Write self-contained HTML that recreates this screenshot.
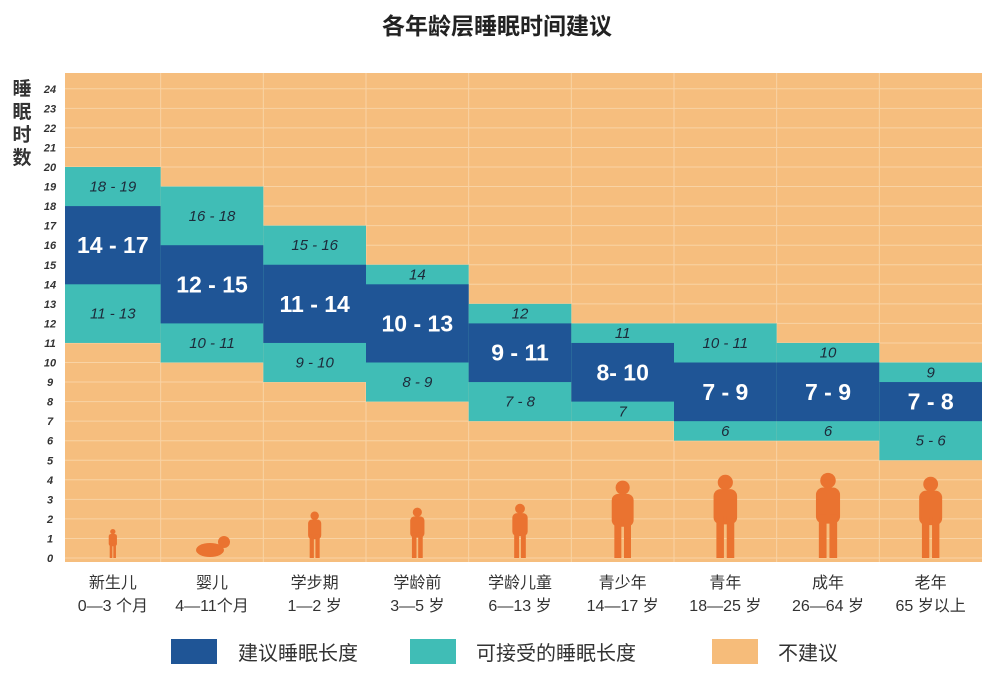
<!DOCTYPE html>
<html><head><meta charset="utf-8">
<style>
body{margin:0;background:#fff;width:1000px;height:671px;overflow:hidden;font-family:"Liberation Sans","Noto Sans CJK SC",sans-serif;}
svg text{font-family:"Liberation Sans","Noto Sans CJK SC",sans-serif;}
</style></head><body>
<svg id="chart" width="1000" height="671" xmlns="http://www.w3.org/2000/svg">
<text x="497" y="34" text-anchor="middle" font-size="23" font-weight="bold" fill="#222">各年龄层睡眠时间建议</text>
<g font-size="19" font-weight="bold" fill="#333">
<text x="22" y="95" text-anchor="middle">睡</text><text x="22" y="118" text-anchor="middle">眠</text>
<text x="22" y="141" text-anchor="middle">时</text><text x="22" y="164" text-anchor="middle">数</text></g>
<g id="plot"></g>
<g id="legend">
<rect x="171" y="639" width="46" height="25" fill="#1F5596"/>
<text x="238" y="660" font-size="20" fill="#333">建议睡眠长度</text>
<rect x="410" y="639" width="46" height="25" fill="#40BDB6"/>
<text x="476" y="660" font-size="20" fill="#333">可接受的睡眠长度</text>
<rect x="712" y="639" width="46" height="25" fill="#F6BC7A"/>
<text x="778" y="660" font-size="20" fill="#333">不建议</text>
</g>
</svg>
<script>
const groups=["新生儿","婴儿","学步期","学龄前","学龄儿童","青少年","青年","成年","老年"];
const ages=["0—3 个月","4—11个月","1—2 岁","3—5 岁","6—13 岁","14—17 岁","18—25 岁","26—64 岁","65 岁以上"];
const accLow=[11,10,9,8,7,7,6,6,5];
const accHigh=[20,19,17,15,13,12,12,11,10];
const recLow=[14,12,11,10,9,8,7,7,7];
const recHigh=[18,16,15,14,12,11,10,10,9];
const recLabels=["14 - 17","12 - 15","11 - 14","10 - 13","9 - 11","8- 10","7 - 9","7 - 9","7 - 8"];
const upperLabels=["18 - 19","16 - 18","15 - 16","14","12","11","10 - 11","10","9"];
const lowerLabels=["11 - 13","10 - 11","9 - 10","8 - 9","7 - 8","7","6","6","5 - 6"];
const yTicks=[0,1,2,3,4,5,6,7,8,9,10,11,12,13,14,15,16,17,18,19,20,21,22,23,24];
const figH=[1.5,1.2,2.4,2.6,2.8,4.0,4.3,4.4,4.2];

const NS="http://www.w3.org/2000/svg";
const PL=65,AL=58,R=982,T=73,B=562,Y0=558,UNIT=19.55;
const y=v=>Y0-v*UNIT;
const colW=(R-AL)/groups.length;
const x=i=>AL+i*colW;
const xs=i=>Math.max(PL,x(i));
const g=document.getElementById('plot');
function mk(tag,attrs,parent){const e=document.createElementNS(NS,tag);for(const k in attrs)e.setAttribute(k,attrs[k]);(parent||g).appendChild(e);return e;}

const bg=mk('rect',{x:PL,y:T,width:R-PL,height:B-T,fill:'#F6BE7E'});


yTicks.forEach(v=>{
  const ln=mk('line',{x1:PL,x2:R,y1:y(v),y2:y(v),stroke:'#F9D3A4','stroke-width':1});
  
  
  const t=mk('text',{x:50,y:y(v)+4,'text-anchor':'middle','font-size':11,'font-style':'italic','font-weight':'bold',fill:'#333','font-family':'Liberation Serif, serif'});
  t.textContent=v;
  
  
});
for(let i=1;i<groups.length;i++){
  const ln=mk('line',{x1:x(i),x2:x(i),y1:T,y2:B,stroke:'#F9D3A4','stroke-width':1});
  
  
}
groups.forEach((gname,i)=>{
  const left=xs(i), right=x(i+1), cx=(left+right)/2, cw=right-left;
  const a=mk('rect',{x:left,y:y(accHigh[i]),width:cw,height:y(accLow[i])-y(accHigh[i]),fill:'#40BDB6'});
  
  
  const r=mk('rect',{x:left,y:y(recHigh[i]),width:cw,height:y(recLow[i])-y(recHigh[i]),fill:'#1F5596'});
  
  
  const tr=mk('text',{x:cx,y:(y(recHigh[i])+y(recLow[i]))/2+8,'text-anchor':'middle','font-size':23,'font-weight':'bold',fill:'#fff'});
  tr.textContent=recLabels[i];
  
  
  const tu=mk('text',{x:cx,y:(y(accHigh[i])+y(recHigh[i]))/2+5,'text-anchor':'middle','font-size':15,'font-style':'italic',fill:'#1d2a3a','font-family':'Liberation Serif, serif'});
  tu.textContent=upperLabels[i];
  
  
  const tl=mk('text',{x:cx,y:(y(recLow[i])+y(accLow[i]))/2+5,'text-anchor':'middle','font-size':15,'font-style':'italic',fill:'#1d2a3a','font-family':'Liberation Serif, serif'});
  tl.textContent=lowerLabels[i];
  
  
  const h=figH[i]*UNIT, top=Y0-h, w=h*0.28;
  const fg=mk('g',{fill:'#EA7330'});
  
  
  if(i===1){
    mk('ellipse',{cx:cx-2,cy:Y0-8,rx:14,ry:7},fg);
    mk('circle',{cx:cx+12,cy:Y0-16,r:6},fg);
  }else{
    mk('circle',{cx:cx,cy:top+h*0.1,r:h*0.09},fg);
    mk('rect',{x:cx-w/2,y:top+h*0.18,width:w,height:h*0.42,rx:w*0.3},fg);
    mk('rect',{x:cx-w*0.38,y:top+h*0.5,width:w*0.32,height:h*0.5},fg);
    mk('rect',{x:cx+w*0.06,y:top+h*0.5,width:w*0.32,height:h*0.5},fg);
  }
  const t1=mk('text',{x:cx,y:588,'text-anchor':'middle','font-size':16,fill:'#333'});
  t1.textContent=gname;
  
  
  const t2=mk('text',{x:cx,y:611,'text-anchor':'middle','font-size':16,fill:'#333'});
  t2.textContent=ages[i];
  
  
});
</script>
</body></html>
